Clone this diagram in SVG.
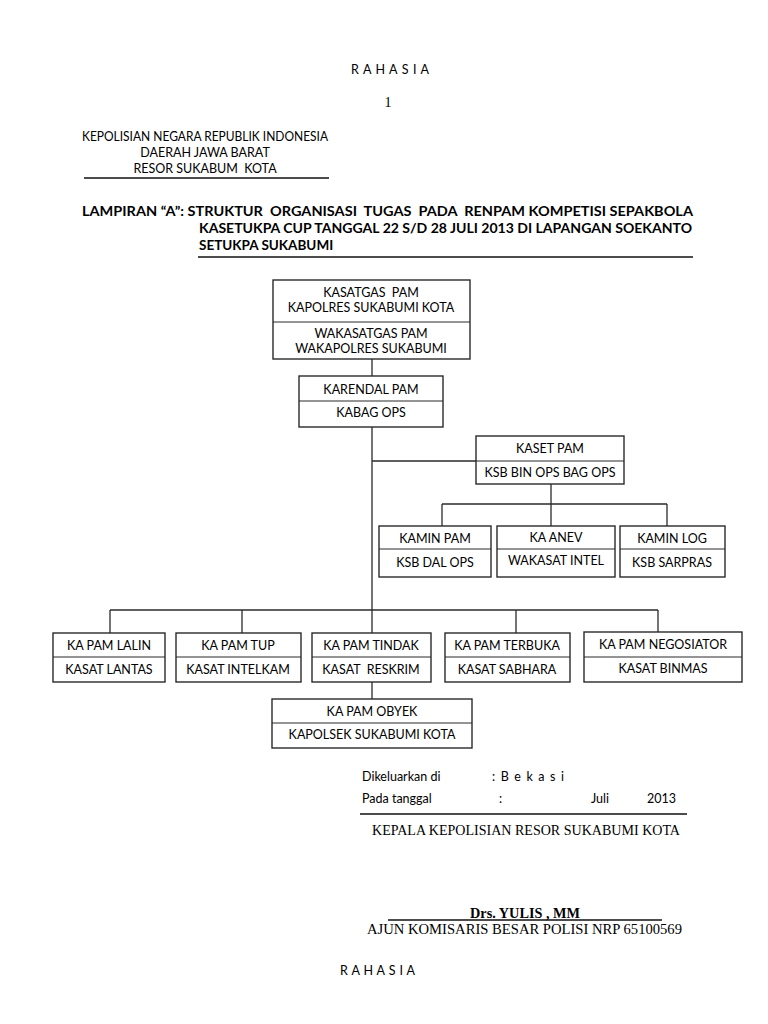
<svg xmlns="http://www.w3.org/2000/svg" width="768" height="1024" viewBox="0 0 768 1024">
<style>
.bg{fill:#ffffff}
.box{fill:#ffffff;stroke:#2a2a2a;stroke-width:1.4}
.div{stroke:#2a2a2a;stroke-width:1.2}
.conn{stroke:#2a2a2a;stroke-width:1.3;fill:none}
.rule{stroke:#111;stroke-width:1.3}
text{white-space:pre}
.t{font-family:Lato,"Open Sans","Liberation Sans",sans-serif;font-size:12.5px;fill:#000;text-anchor:middle}
.h{font-family:Lato,"Open Sans","Liberation Sans",sans-serif;font-size:12.5px;fill:#000}
.tb{font-family:Lato,"Open Sans","Liberation Sans",sans-serif;font-size:13.5px;font-weight:bold;fill:#000}
.s{font-family:"Liberation Serif","DejaVu Serif",serif;font-size:14px;fill:#000}
</style>
<rect class="bg" x="0" y="0" width="768" height="1024"/>

<g id="header">
<text class="h" x="351" y="74" font-size="11" textLength="78" lengthAdjust="spacing">R A H A S I A</text>
<text class="s" x="388" y="107" text-anchor="middle" font-size="13">1</text>
<text class="t" x="205" y="141" textLength="246" lengthAdjust="spacingAndGlyphs">KEPOLISIAN NEGARA REPUBLIK INDONESIA</text>
<text class="t" x="205" y="157">DAERAH JAWA BARAT</text>
<text class="t" x="205" y="173">RESOR SUKABUM  KOTA</text>
<line class="rule" x1="84" y1="178" x2="329" y2="178"/>
</g>

<g id="title">
<text class="tb" x="82" y="216" textLength="611" lengthAdjust="spacingAndGlyphs">LAMPIRAN “A”: STRUKTUR  ORGANISASI  TUGAS  PADA  RENPAM KOMPETISI SEPAKBOLA</text>
<text class="tb" x="199" y="233" textLength="493" lengthAdjust="spacingAndGlyphs">KASETUKPA CUP TANGGAL 22 S/D 28 JULI 2013 DI LAPANGAN SOEKANTO</text>
<text class="tb" x="199" y="250">SETUKPA SUKABUMI</text>
<line class="rule" x1="198" y1="257" x2="693" y2="257"/>
</g>

<g id="connectors">
<line class="conn" x1="372" y1="359" x2="372" y2="376"/>
<line class="conn" x1="372" y1="427" x2="372" y2="699"/>
<line class="conn" x1="372" y1="461" x2="476" y2="461"/>
<line class="conn" x1="551" y1="484" x2="551" y2="526"/>
<line class="conn" x1="442" y1="504" x2="667" y2="504"/>
<line class="conn" x1="442" y1="504" x2="442" y2="526"/>
<line class="conn" x1="667" y1="504" x2="667" y2="526"/>
<line class="conn" x1="110" y1="610" x2="658" y2="610"/>
<line class="conn" x1="110" y1="610" x2="110" y2="633"/>
<line class="conn" x1="242" y1="610" x2="242" y2="633"/>
<line class="conn" x1="516" y1="610" x2="516" y2="633"/>
<line class="conn" x1="658" y1="610" x2="658" y2="632"/>
</g>

<g id="kasatgas">
<rect class="box" x="273" y="280" width="197" height="79"/>
<line class="div" x1="273" y1="322" x2="470" y2="322"/>
<text class="t" x="371" y="297">KASATGAS  PAM</text>
<text class="t" x="371" y="312">KAPOLRES SUKABUMI KOTA</text>
<text class="t" x="371" y="338">WAKASATGAS PAM</text>
<text class="t" x="371" y="353">WAKAPOLRES SUKABUMI</text>
</g>

<g id="karendal">
<rect class="box" x="299" y="376" width="144" height="51"/>
<line class="div" x1="299" y1="401" x2="443" y2="401"/>
<text class="t" x="371" y="394">KARENDAL PAM</text>
<text class="t" x="371" y="417">KABAG OPS</text>
</g>

<g id="kaset">
<rect class="box" x="476" y="436" width="148" height="48"/>
<line class="div" x1="476" y1="461" x2="624" y2="461"/>
<text class="t" x="550" y="453">KASET PAM</text>
<text class="t" x="550" y="477">KSB BIN OPS BAG OPS</text>
</g>

<g id="kamin-pam">
<rect class="box" x="379" y="526" width="112" height="51"/>
<line class="div" x1="379" y1="549" x2="491" y2="549"/>
<text class="t" x="435" y="543">KAMIN PAM</text>
<text class="t" x="435" y="567">KSB DAL OPS</text>
</g>

<g id="ka-anev">
<rect class="box" x="497" y="526" width="118" height="51"/>
<line class="div" x1="497" y1="549" x2="615" y2="549"/>
<text class="t" x="556" y="542">KA ANEV</text>
<text class="t" x="556" y="565">WAKASAT INTEL</text>
</g>

<g id="kamin-log">
<rect class="box" x="620" y="526" width="105" height="51"/>
<line class="div" x1="620" y1="549" x2="725" y2="549"/>
<text class="t" x="672" y="543">KAMIN LOG</text>
<text class="t" x="672" y="567">KSB SARPRAS</text>
</g>

<g id="ka-pam-lalin">
<rect class="box" x="53" y="633" width="112" height="49"/>
<line class="div" x1="53" y1="657" x2="165" y2="657"/>
<text class="t" x="109" y="650">KA PAM LALIN</text>
<text class="t" x="109" y="674">KASAT LANTAS</text>
</g>

<g id="ka-pam-tup">
<rect class="box" x="176" y="633" width="125" height="49"/>
<line class="div" x1="176" y1="657" x2="301" y2="657"/>
<text class="t" x="238" y="650">KA PAM TUP</text>
<text class="t" x="238" y="674">KASAT INTELKAM</text>
</g>

<g id="ka-pam-tindak">
<rect class="box" x="312" y="633" width="119" height="49"/>
<line class="div" x1="312" y1="657" x2="431" y2="657"/>
<text class="t" x="371" y="650">KA PAM TINDAK</text>
<text class="t" x="371" y="674">KASAT  RESKRIM</text>
</g>

<g id="ka-pam-terbuka">
<rect class="box" x="445" y="633" width="125" height="49"/>
<line class="div" x1="445" y1="657" x2="570" y2="657"/>
<text class="t" x="507" y="650">KA PAM TERBUKA</text>
<text class="t" x="507" y="674">KASAT SABHARA</text>
</g>

<g id="ka-pam-negosiator">
<rect class="box" x="584" y="632" width="158" height="50"/>
<line class="div" x1="584" y1="657" x2="742" y2="657"/>
<text class="t" x="663" y="649">KA PAM NEGOSIATOR</text>
<text class="t" x="663" y="673">KASAT BINMAS</text>
</g>

<g id="ka-pam-obyek">
<rect class="box" x="272" y="699" width="200" height="49"/>
<line class="div" x1="272" y1="723" x2="472" y2="723"/>
<text class="t" x="372" y="716">KA PAM OBYEK</text>
<text class="t" x="372" y="739">KAPOLSEK SUKABUMI KOTA</text>
</g>

<g id="footer">
<text class="h" x="362" y="781">Dikeluarkan di</text>
<text class="h" x="492" y="781" textLength="72" lengthAdjust="spacing">: B e k a s i</text>
<text class="h" x="362" y="803">Pada tanggal</text>
<text class="h" x="499" y="803">:</text>
<text class="h" x="591" y="803">Juli</text>
<text class="h" x="647" y="803">2013</text>
<line class="rule" x1="360" y1="814" x2="687" y2="814"/>
<text class="s" x="372" y="835" textLength="308" lengthAdjust="spacingAndGlyphs">KEPALA KEPOLISIAN RESOR SUKABUMI KOTA</text>
<line class="rule" x1="388" y1="920" x2="662" y2="920"/>
<text class="s" x="470" y="918" font-weight="bold" textLength="110" lengthAdjust="spacingAndGlyphs">Drs. YULIS , MM</text>
<text class="s" x="367" y="934" textLength="315" lengthAdjust="spacingAndGlyphs">AJUN KOMISARIS BESAR POLISI NRP 65100569</text>
<text class="h" x="340" y="975" font-size="11" textLength="75" lengthAdjust="spacing">R A H A S I A</text>
</g>
</svg>
